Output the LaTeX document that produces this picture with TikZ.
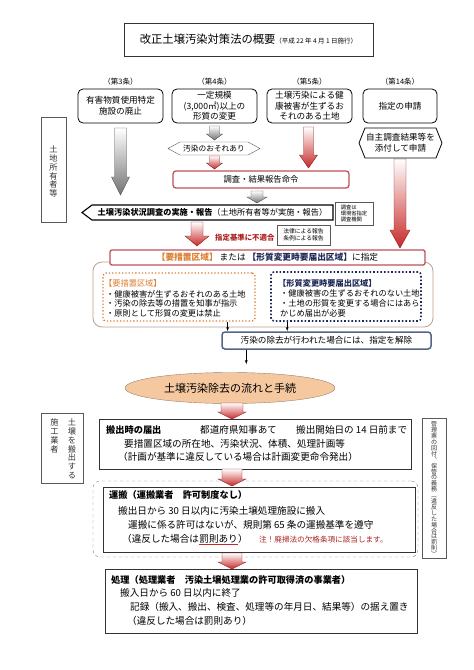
\documentclass[tikz,border=0pt]{standalone}
\usepackage{fontspec}
\setmainfont{Noto Sans CJK JP}
\usetikzlibrary{calc,positioning,shapes.geometric}

\definecolor{arrowred}{RGB}{200,40,40}
\definecolor{arrowgray}{RGB}{115,115,115}
\definecolor{framered}{RGB}{190,80,90}
\definecolor{zoneorange}{RGB}{220,125,45}
\definecolor{zonenavy}{RGB}{30,40,85}
\definecolor{slate}{RGB}{85,100,135}
\definecolor{peach}{RGB}{245,200,160}
\definecolor{tanline}{RGB}{190,160,140}

\begin{document}
\begin{tikzpicture}[x=1pt, y=-1pt,
    topbox/.style={draw, thick, rounded corners=5pt, align=center, minimum height=34pt, inner sep=1pt, font=\fontsize{8.6}{10.6}\selectfont},
    artlabel/.style={font=\fontsize{7.5}{9}\selectfont},
    thinbox/.style={draw=gray!70!black, inner sep=2pt},
    vchar/.style={inner sep=0pt, text=black!80, text height=6.6pt, text depth=1.2pt, font=\fontsize{8.2}{9}\selectfont},
    mchar/.style={vchar, text height=4.6pt, text depth=0.8pt, font=\fontsize{6}{6}\selectfont},
    zoneline/.style={anchor=west, inner sep=0pt, font=\fontsize{8.2}{9.5}\selectfont},
    line/.style={anchor=west, inner sep=0pt, text height=7pt, text depth=2pt, font=\fontsize{9.6}{11}\selectfont},
    headline/.style={line, font=\bfseries\fontsize{9.2}{11}\selectfont},
    stepframe/.style={draw=black!80, line width=0.8pt},
  ]
    \useasboundingbox (0,0) rectangle (474,670);

    % block arrow: x / top / tip / half shaft / half head / head length / colour
    \def\blockarr#1#2#3#4#5#6#7{%
      \shade[top color=white, bottom color=#7, draw=#7!70!black, line width=0.4pt]
        ({#1-#4},#2) -- ({#1+#4},#2) -- ({#1+#4},{#3-#6}) -- ({#1+#5},{#3-#6})
        -- (#1,#3) -- ({#1-#5},{#3-#6}) -- ({#1-#4},{#3-#6}) -- cycle;}

    %----------------------------------------
    % title
    %----------------------------------------
    \node[draw=black!80, minimum width=249pt, minimum height=33pt] (title) at (248.5,39.5)
      {\fontsize{11.3}{13}\selectfont 改正土壌汚染対策法の概要\fontsize{6.5}{8}\selectfont（平成 22 年 4 月 1 日施行）};

    %----------------------------------------
    % articles and starting cases
    %----------------------------------------
    \foreach \n/\x/\t in {a3/120.5/第3条, a4/214.5/第4条, a5/309.5/第5条, a14/400/第14条}
      \node[artlabel] (\n) at (\x,82) {（\t）};

    \node[topbox, minimum width=85pt] (b1) at (120.5,106) {有害物質使用特定\\施設の廃止};
    \node[topbox, minimum width=85pt] (b2) at (214.5,106) {一定規模\\(3,000㎡)以上の\\形質の変更};
    \node[topbox, minimum width=85pt] (b3) at (309.5,106) {土壌汚染による健\\康被害が生ずるお\\それのある土地};
    \node[topbox, minimum width=74pt] (b4) at (400,106) {指定の申請};

    % self survey (hexagon)
    \draw[thick] (359,143) -- (365,128) -- (436,128) -- (442,143) -- (436,158) -- (365,158) -- cycle;
    \node[align=center, inner sep=0pt, font=\fontsize{8.6}{10.6}\selectfont] (selfcheck) at (400.5,143) {自主調査結果等を\\添付して申請};

    % land owner
    \node[thinbox, minimum width=25pt, minimum height=105pt] (owner) at (53.5,169.5) {};
    \foreach \c [count=\i] in {土,地,所,有,者,等}
      \node[vchar] (own\i) at (53.5,{141.2+\i*8.8}) {\c};

    % fear of contamination
    \draw[gray!70!black] (168,148.5) -- (180,142) -- (248,142) -- (260,148.5) -- (248,155) -- (180,155) -- cycle;
    \node[inner sep=0pt, font=\fontsize{7.7}{9}\selectfont] (fear) at (214,148.5) {汚染のおそれあり};

    % order
    \node[draw=framered, line width=1.3pt, rounded corners=3pt, minimum width=176pt, minimum height=17pt,
      font=\fontsize{8.3}{10}\selectfont] (order) at (261,179.5) {調査・結果報告命令};

    % survey (pentagon)
    \draw[line width=1.1pt] (82,212.5) -- (92,205) -- (333,205) -- (333,220) -- (92,220) -- cycle;
    \node[inner sep=0pt, font=\fontsize{8.2}{10}\selectfont] (survey) at (212.5,212.5)
      {\textbf{土壌汚染状況調査の実施・報告}（土地所有者等が実施・報告）};

    \node[thinbox, align=left, minimum width=38pt, minimum height=23pt, font=\fontsize{5.3}{6.2}\selectfont] (agency) at (354,213.5) {調査は\\環境省指定\\調査機関};
    \node[thinbox, align=left, minimum width=53pt, minimum height=20pt, font=\fontsize{5.8}{6.8}\selectfont] (report) at (303.5,235) {法律による報告\\条例による報告};
    \node[anchor=west, inner sep=0pt, text=arrowred!85!black, font=\bfseries\fontsize{7.4}{9}\selectfont] (unfit) at (215,238) {指定基準に不適合};

    % arrows of the upper part
    \blockarr{120.5}{128}{195}{6}{9}{18}{arrowgray}
    \blockarr{214.5}{126}{140}{5}{8}{6}{arrowgray}
    \blockarr{214.5}{156}{169}{5}{8}{6}{arrowred}
    \blockarr{308.5}{127}{168}{5}{9}{13}{arrowred}
    \blockarr{257}{191}{203}{6}{10}{6}{arrowgray}
    \blockarr{197}{222}{246}{6}{12}{10}{arrowred}
    \blockarr{400}{159}{248}{6}{10}{18}{arrowred}

    %----------------------------------------
    % designated areas
    %----------------------------------------
    \node[draw=tanline, line width=0.8pt, rounded corners=9pt, minimum width=340pt, minimum height=65pt] (zone) at (263,294.5) {};
    \node[draw=framered, fill=white, line width=1.3pt, rounded corners=2pt, minimum width=315pt, minimum height=15pt,
      font=\fontsize{8.7}{10}\selectfont] (desig) at (267.5,257.5)
      {\textcolor{zoneorange}{\textbf{【要措置区域】}} または \textcolor{zonenavy}{\textbf{【形質変更時要届出区域】}}に指定};

    \node[draw=zoneorange, dotted, line width=1.3pt, rounded corners=3pt, minimum width=152pt, minimum height=48pt] (ldot) at (179,297) {};
    \node[zoneline, text=zoneorange] (l0) at (104,283) {【要措置区域】};
    \foreach \y/\t [count=\i] in {294/・健康被害が生ずるおそれのある土地, 303.5/・汚染の除去等の措置を知事が指示, 313/・原則として形質の変更は禁止}
      \node[zoneline] (l\i) at (106,\y) {\t};

    \node[draw=zonenavy, dotted, line width=1.6pt, rounded corners=3pt, minimum width=150pt, minimum height=49pt] (rdot) at (346,296.5) {};
    \node[zoneline, text=zonenavy, font=\bfseries\fontsize{8.2}{9.5}\selectfont] (r0) at (278,283) {【形質変更時要届出区域】};
    \foreach \y/\t [count=\i] in {293.5/・健康被害の生ずるおそれのない土地, 303/・土地の形質を変更する場合にはあら, 313/かじめ届出が必要}
      \node[zoneline] (r\i) at (280,\y) {\t};

    \node[draw=slate, line width=1.5pt, rounded corners=3pt, minimum width=209pt, minimum height=17pt,
      font=\fontsize{8.6}{10}\selectfont] (release) at (326.5,340.5) {汚染の除去が行われた場合には、指定を解除};

    \coordinate (la) at ($(ldot.south east)+(-28,0)$);
    \coordinate (ra) at ($(rdot.south west)+(17,0)$);
    \draw[-latex] (la) -- (la |- release.north);
    \draw[-latex] (ra) -- (ra |- release.north);

    %----------------------------------------
    % removal of contaminated soil
    %----------------------------------------
    \node[ellipse, draw=tanline!80!black, fill=peach, minimum width=210pt, minimum height=31pt,
      font=\fontsize{11}{13}\selectfont] (flow) at (230,388) {土壌汚染除去の流れと手続};
    \coordinate (rb) at ($(release.south west)+(25,0)$);
    \draw[-latex, shorten >=8pt] (rb) -- (rb |- flow.north);

    % side notes
    \node[thinbox, minimum width=42pt, minimum height=70pt] (worker) at (62,448) {};
    \foreach \c [count=\i] in {土,壌,を,搬,出,す,る}
      \node[vchar] (wa\i) at (72,{414.5+\i*8.7}) {\c};
    \foreach \c [count=\i] in {施,工,業,者}
      \node[vchar] (wb\i) at (54.5,{414.5+\i*8.7}) {\c};

    \node[thinbox, minimum width=24pt, minimum height=140pt] (manifest) at (434,488) {};
    \foreach \c [count=\i] in {管,理,票,の,回,付,︑,保,管,の,義,務,︵,違,反,し,た,場,合,は,罰,則,︶}
      \node[mchar] (m\i) at (434,{419+\i*5.9}) {\c};

    % notification
    \node[stepframe, minimum width=312pt, minimum height=50pt] (notify) at (255,444) {};
    \node[headline] (n1) at (106,431) {搬出時の届出};
    \node[line] (n2) at (200,431) {都道府県知事あて};
    \node[line] (n3) at (296,431) {搬出開始日の 14 日前まで};
    \node[line] (n4) at (124,445) {要措置区域の所在地、汚染状況、体積、処理計画等};
    \node[line] (n5) at (118,458) {（計画が基準に違反している場合は計画変更命令発出）};

    % transport
    \node[draw=gray, dashed, rounded corners=7pt, minimum width=325pt, minimum height=76pt] (carryzone) at (255.5,519) {};
    \node[stepframe, minimum width=312pt, minimum height=65pt] (carry) at (259,519.5) {};
    \node[headline] (c1) at (109,496) {運搬（運搬業者　許可制度なし）};
    \node[line] (c2) at (118,512) {搬出日から 30 日以内に汚染土壌処理施設に搬入};
    \node[line] (c3) at (128,526) {運搬に係る許可はないが、規則第 65 条の運搬基準を遵守};
    \node[line] (c4) at (122,540) {（違反した場合は};
    \node[line, right=0pt of c4] (c4b) {罰則あり};
    \node[line, right=0pt of c4b] (c4c) {）};
    \draw[arrowred, line width=0.8pt] (c4b.south west) -- (c4b.south east);
    \node[anchor=west, inner sep=0pt, text=arrowred!85!black, font=\fontsize{7.6}{9}\selectfont] (note) at (259,540) {注！廃掃法の欠格条項に該当します。};

    % treatment
    \node[stepframe, minimum width=312pt, minimum height=64pt] (treat) at (261,601) {};
    \node[headline] (t1) at (111,581) {処理（処理業者　汚染土壌処理業の許可取得済の事業者）};
    \node[line] (t2) at (120,593.5) {搬入日から 60 日以内に終了};
    \node[line] (t3) at (130,607.5) {記録（搬入、搬出、検査、処理等の年月日、結果等）の据え置き};
    \node[line] (t4) at (127,622) {（違反した場合は罰則あり）};

    % arrows of the lower part
    \blockarr{232}{403}{419}{11}{14}{7}{arrowred}
    \blockarr{232}{469}{486}{10}{14}{7}{arrowred}
    \blockarr{232}{553}{569}{10}{14}{7}{arrowred}

\end{tikzpicture}
\end{document}
